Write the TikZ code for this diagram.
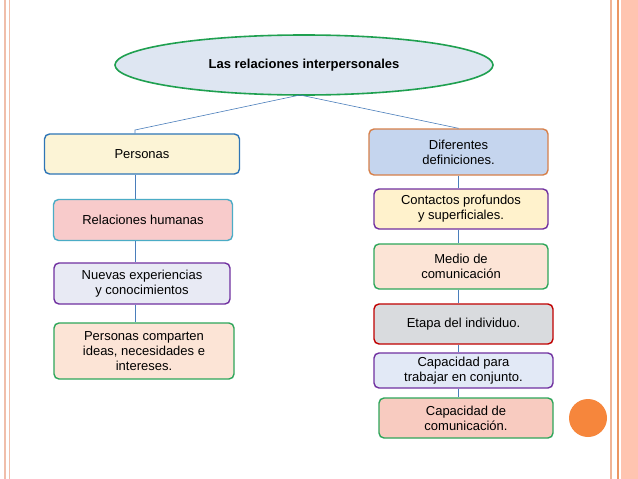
\documentclass[tikz,border=0pt]{standalone}
\usepackage{fontspec}
\setmainfont{Liberation Sans}
\usetikzlibrary{shapes.geometric}
\definecolor{bblue}{HTML}{2E75B6}
\definecolor{bcyan}{HTML}{4BACC6}
\definecolor{bpurp}{HTML}{7030A0}
\definecolor{bgreen}{HTML}{2EA65A}
\definecolor{bora}{HTML}{D7804A}
\definecolor{bred}{HTML}{C00000}
\definecolor{lnk}{HTML}{4A7EBB}
\tikzset{
 box/.style={draw, rounded corners=5pt, line width=1.4pt, align=center, inner sep=2pt,
   font=\fontsize{13}{15}\selectfont},
 lk/.style={draw=lnk, line width=0.6pt}
}
\begin{document}
\begin{tikzpicture}[x=1pt,y=-1pt]
\useasboundingbox (0,0) rectangle (638,479);
\fill[white] (0,0) rectangle (638,479);
% borders
\draw[color={rgb,255:red,240;green,190;blue,170}, line width=1.5pt] (5,0)--(5,479);
\draw[color={rgb,255:red,240;green,190;blue,170}, line width=1pt] (9,0)--(9,479);
\fill[color={rgb,255:red,255;green,196;blue,176}] (621,0) rectangle (638,479);
\draw[color={rgb,255:red,240;green,180;blue,150}, line width=2pt] (611,0)--(611,479);
\draw[color={rgb,255:red,235;green,150;blue,100}, line width=1.2pt] (618,0)--(618,479);
% nodes
\node[ellipse, draw={rgb,255:red,31;green,160;blue,80}, line width=1.6pt, fill={rgb,255:red,222;green,230;blue,242},
  minimum width=378pt, minimum height=60pt, font=\bfseries\fontsize{13}{15}\selectfont] (top) at (304,65) {Las relaciones interpersonales};
\node[box, draw=bblue, fill={rgb,255:red,252;green,244;blue,214}, minimum width=195pt, minimum height=40pt] (p) at (142,154) {Personas};
\node[box, draw=bcyan, fill={rgb,255:red,248;green,203;blue,203}, minimum width=179pt, minimum height=41pt] (r) at (143,220) {Relaciones humanas};
\node[box, draw=bpurp, fill={rgb,255:red,232;green,234;blue,244}, minimum width=176pt, minimum height=41pt] (n) at (142,283.5) {Nuevas experiencias\\y conocimientos};
\node[box, draw=bgreen, fill={rgb,255:red,252;green,228;blue,214}, minimum width=180pt, minimum height=56pt] (c) at (144,351) {Personas comparten\\ideas, necesidades e\\intereses.};
\node[box, draw=bora, fill={rgb,255:red,197;green,213;blue,238}, minimum width=179pt, minimum height=46pt] (d) at (458.5,152) {Diferentes\\definiciones.};
\node[box, draw=bpurp, fill={rgb,255:red,255;green,242;blue,204}, minimum width=174pt, minimum height=40pt] (e1) at (461,209) {Contactos profundos\\y superficiales.};
\node[box, draw=bgreen, fill={rgb,255:red,252;green,228;blue,214}, minimum width=174pt, minimum height=45pt] (e2) at (461,266.5) {Medio de\\comunicación};
\node[box, draw=bred, fill={rgb,255:red,217;green,219;blue,222}, minimum width=179pt, minimum height=40pt] (e3) at (463.5,324) {Etapa del individuo.};
\node[box, draw=bpurp, fill={rgb,255:red,226;green,233;blue,246}, minimum width=179pt, minimum height=35pt] (e4) at (463.5,370.5) {Capacidad para\\trabajar en conjunto.};
\node[box, draw=bgreen, fill={rgb,255:red,248;green,203;blue,192}, minimum width=174pt, minimum height=40pt] (e5) at (466,418) {Capacidad de\\comunicación.};
\node[circle, fill={rgb,255:red,246;green,134;blue,60}, minimum size=38pt, inner sep=0pt] (dot) at (588,418) {};
% connectors
\coordinate (b) at (300,95);
\coordinate (pl) at (135,130);
\draw[lk] (b) -- (pl) -- (pl |- p.north);
\draw[lk] (b) -- (d.north);
\draw[lk] (p.south -| pl) -- (r.north -| pl);
\draw[lk] (r.south -| pl) -- (n.north -| pl);
\draw[lk] (n.south -| pl) -- (c.north -| pl);
\draw[lk] (d.south) -- (e1.north -| d.south);
\draw[lk] (e1.south -| d.south) -- (e2.north -| d.south);
\draw[lk] (e2.south -| d.south) -- (e3.north -| d.south);
\draw[lk] (e3.south -| d.south) -- (e4.north -| d.south);
\draw[lk] (e4.south -| d.south) -- (e5.north -| d.south);
\end{tikzpicture}
\end{document}
